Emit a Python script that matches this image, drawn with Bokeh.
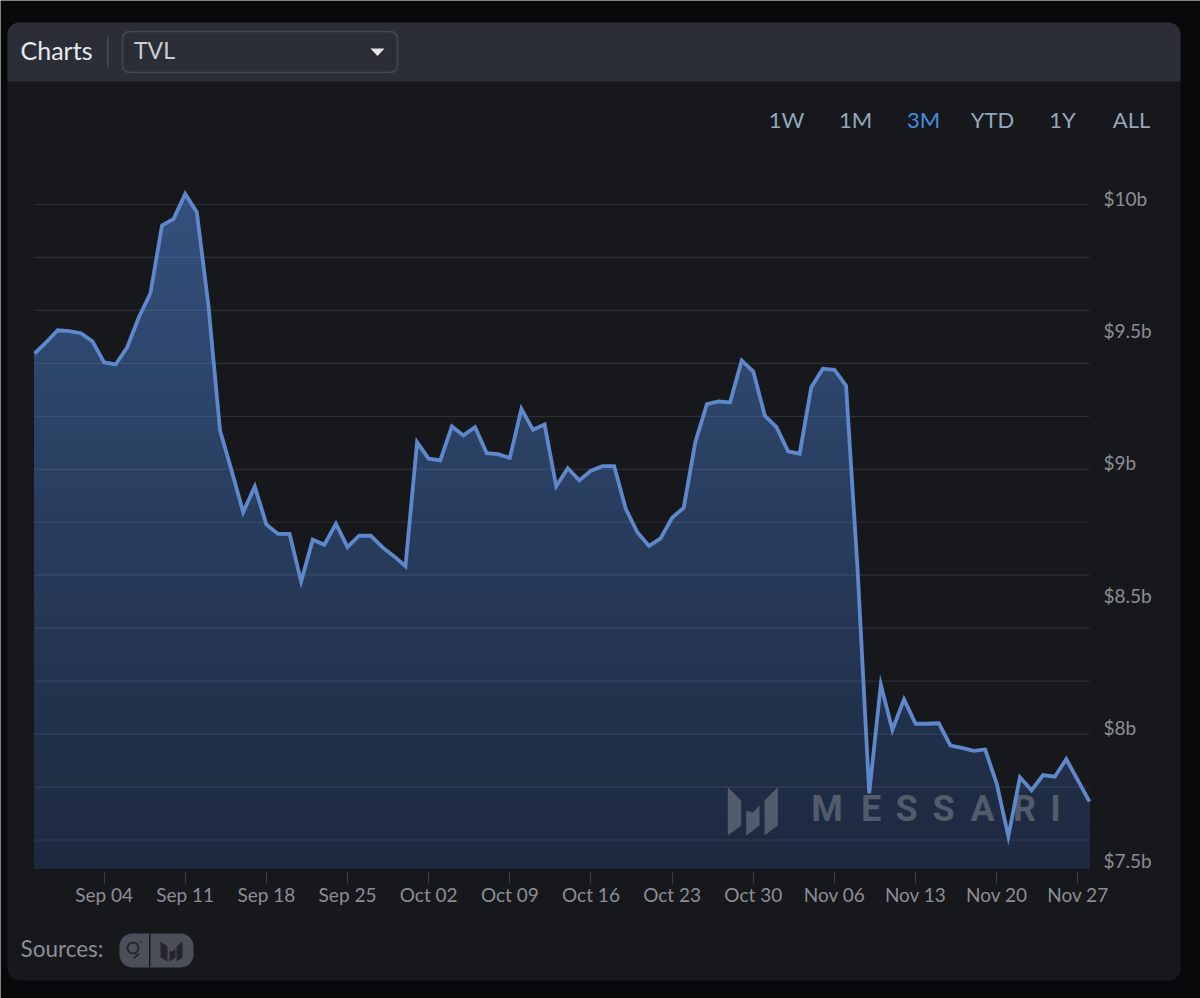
import numpy as np
import pandas as pd
from bokeh.plotting import figure
from bokeh.models import (BoxAnnotation, Label, PolyAnnotation, Range1d, FixedTicker,
                          DatetimeTickFormatter, DatetimeAxis, LinearAxis)
from bokeh.embed import file_html
from bokeh.resources import INLINE

# ---------- data ----------
start_date = "2023-08-29"
tvl_billion = [
    9.437, 9.479, 9.525, 9.522, 9.514, 9.483, 9.404, 9.396, 9.461, 9.574,
    9.665, 9.921, 9.946, 10.040, 9.971, 9.619, 9.147, 8.995, 8.838, 8.935,
    8.792, 8.756, 8.756, 8.576, 8.734, 8.715, 8.794, 8.706, 8.749, 8.749,
    8.706, 8.672, 8.634, 9.102, 9.040, 9.034, 9.162, 9.128, 9.159, 9.061,
    9.057, 9.043, 9.228, 9.149, 9.169, 8.936, 9.004, 8.958, 8.995, 9.012,
    9.012, 8.851, 8.762, 8.710, 8.739, 8.817, 8.855, 9.102, 9.246, 9.256,
    9.253, 9.411, 9.369, 9.202, 9.159, 9.068, 9.059, 9.310, 9.380, 9.376,
    9.316, 8.618, 7.776, 8.187, 8.016, 8.131, 8.039, 8.039, 8.041, 7.957,
    7.948, 7.937, 7.942, 7.812, 7.614, 7.837, 7.788, 7.845, 7.839, 7.905,
    7.825, 7.745,
]
x_tick_dates = ["2023-09-04", "2023-09-11", "2023-09-18", "2023-09-25", "2023-10-02",
                "2023-10-09", "2023-10-16", "2023-10-23", "2023-10-30", "2023-11-06",
                "2023-11-13", "2023-11-20", "2023-11-27"]
y_tick_values = [7.5, 8.0, 8.5, 9.0, 9.5, 10.0]
y_tick_labels = ["$7.5b", "$8b", "$8.5b", "$9b", "$9.5b", "$10b"]
grid_values = [7.6, 7.8, 8.0, 8.2, 8.4, 8.6, 8.8, 9.0, 9.2, 9.4, 9.6, 9.8, 10.0]
range_buttons = ["1W", "1M", "3M", "YTD", "1Y", "ALL"]

# ---------- style ----------
FONT = "Lato"
OUTER = "#08090b"
CARD = "#17181c"
HEAD = "#2b2e36"
LINE = "#5f88cc"
MUTED = "#8b8e95"
ICON = "#24262c"
W, H = 1200, 998
PLOT_L, PLOT_R, PLOT_B = 34, 1089, 868
PX_PER_B = 264.8
GRID_10B_Y = 204
Y_LABEL_RAISE_PX = 6.5

dates = pd.date_range(start_date, periods=len(tvl_billion), freq="D")
v = np.array(tvl_billion)
ms = dates.values.astype("datetime64[ms]").astype("int64").astype(float)
px_per_ms = (PLOT_R - PLOT_L) / (ms[-1] - ms[0])
x_start = ms[0] - PLOT_L / px_per_ms
x_end = ms[0] + (W - PLOT_L) / px_per_ms
y_top = 10 + GRID_10B_Y / PX_PER_B
y_end = 10 - (H - GRID_10B_Y) / PX_PER_B
y_base = 10 - (PLOT_B - GRID_10B_Y) / PX_PER_B

p = figure(width=W, height=H, output_backend="svg", toolbar_location=None,
           x_range=Range1d(x_start, x_end), y_range=Range1d(y_end, y_top),
           x_axis_location=None, y_axis_location=None,
           min_border=0, border_fill_color=OUTER, background_fill_color=OUTER,
           outline_line_color=None)
p.grid.visible = False
label_shift = Y_LABEL_RAISE_PX / PX_PER_B
p.extra_y_ranges = {"labels": Range1d(y_end - label_shift, y_top - label_shift)}


def box(l, t, r, b, fill, line=None, radius=0, level="underlay", lw=1.5):
    p.add_layout(BoxAnnotation(left=l, right=r, top=t, bottom=b,
                               left_units="canvas", right_units="canvas",
                               top_units="canvas", bottom_units="canvas",
                               fill_color=fill, fill_alpha=1, line_color=line, line_width=lw,
                               line_alpha=1 if line else 0, border_radius=radius, level=level,
                               editable=False))


def text(px, py, s, size, color, align="left", weight="normal", alpha=1.0, font=FONT):
    p.add_layout(Label(x=px, y=py, x_units="canvas", y_units="canvas", text=s,
                       text_font=font, text_font_size=f"{size}px", text_color=color,
                       text_align=align, text_baseline="middle", text_font_style=weight,
                       text_alpha=alpha))


def poly(pts, color, alpha=1.0):
    p.add_layout(PolyAnnotation(xs=[a for a, _ in pts], ys=[b for _, b in pts],
                                xs_units="canvas", ys_units="canvas", fill_color=color,
                                fill_alpha=alpha, line_color=None))


# card + header chrome
box(7, 22, 1180, 980, CARD, radius=12, level="image")
box(7, 22, 1180, 81, HEAD, radius={"top_left": 12, "top_right": 12, "bottom_left": 0, "bottom_right": 0})
box(106.5, 36, 108, 67, "#4a4e58")
box(122, 31, 397, 72, HEAD, line="#454953", radius=7)
text(20, 49.5, "Charts", 25, "#e8eaec")
text(133.5, 49.5, "TVL", 23, "#c9cdd3")
poly([(370, 48), (384, 48), (377, 55.5)], "#e4e6ea")

# range buttons
for name, px in zip(range_buttons, [786, 855, 923, 992, 1062, 1131]):
    text(px, 118.5, name, 22, "#3f8fe0" if name == "3M" else "#92a8ba", align="center")

# vertical gradient below the curve, painted top-down so bands do not show seams
n_bands = 80
c_top = np.array([0x33, 0x50, 0x7c])
c_bot = np.array([0x1d, 0x29, 0x3e])
edges = np.linspace(10.06, y_base, n_bands + 1)
for k in range(n_bands):
    t = k / (n_bands - 1)
    c = (c_top + (c_bot - c_top) * t).round().astype(int)
    p.quad(left=ms[0], right=ms[-1], top=edges[k], bottom=y_base,
           fill_color="#%02x%02x%02x" % tuple(c), line_color=None)
edge_pad = 1.5 / px_per_ms
mask_x = np.concatenate([[ms[0] - edge_pad], ms, [ms[-1] + edge_pad]])
mask_y = np.concatenate([[v[0]], v, [v[-1]]])
p.varea(x=mask_x, y1=mask_y, y2=np.full(len(mask_y), 10.08), fill_color=CARD)

# grid lines across the plotted span
p.segment(x0=[ms[0]] * len(grid_values), x1=[ms[-1]] * len(grid_values),
          y0=grid_values, y1=grid_values, line_color="#7a8aa8", line_alpha=0.2, line_width=1.2)

# curve above watermark
p.line(ms, v, line_color=LINE, line_width=3.8, line_join="miter", level="overlay")

# axes
xa = DatetimeAxis(fixed_location=y_base)
p.add_layout(xa, "below")
xa.ticker = FixedTicker(ticks=[pd.Timestamp(d).value / 1e6 for d in x_tick_dates])
xa.formatter = DatetimeTickFormatter(days="%b %d", months="%b %d", hours="%b %d")
xa.axis_line_color = None
xa.minor_tick_line_color = None
xa.major_tick_in = -3
xa.major_tick_out = 15
xa.major_tick_line_color = "#3a3d46"
xa.major_tick_line_width = 1.2
xa.major_label_standoff = -1
xa.major_label_text_font = FONT
xa.major_label_text_font_size = "19px"
xa.major_label_text_color = MUTED

ya = LinearAxis(fixed_location=ms[-1], y_range_name="labels")
p.add_layout(ya, "right")
ya.ticker = FixedTicker(ticks=y_tick_values)
ya.major_label_overrides = dict(zip(y_tick_values, y_tick_labels))
ya.axis_line_color = None
ya.minor_tick_line_color = None
ya.major_tick_line_color = None
ya.major_tick_in = 0
ya.major_tick_out = 0
ya.major_label_standoff = 14
ya.major_label_text_font = FONT
ya.major_label_text_font_size = "19px"
ya.major_label_text_color = MUTED

# watermark
WM = "#868b93"
poly([(727.3, 786.7), (740.7, 800), (740.7, 825), (727.3, 835)], WM, 0.5)
poly([(745.7, 810), (752.3, 812), (759, 805), (759, 825), (745.7, 835)], WM, 0.5)
poly([(764, 800), (777.3, 786.7), (777.3, 825), (764, 835)], WM, 0.5)
for ch, px in zip("MESSARI", [826.5, 870.5, 906, 943, 982, 1024, 1055]):
    text(px, 808, ch, 36, WM, align="center", weight="bold", alpha=0.5, font="Roboto")

# sources
text(20, 947.5, "Sources:", 22.5, MUTED)
box(119, 933, 193, 967, "#4b4f5a", radius=13)
box(148.5, 933, 150, 967, "#17181c")
box(127, 942, 138, 953, "#4b4f5a", line=ICON, radius=6, lw=2)
poly([(132.5, 957), (138, 952.5), (139.2, 954), (133.7, 958.5)], ICON)
poly([(139.5, 940.5), (141, 940.5), (141, 942), (139.5, 942)], ICON)
poly([(160, 941), (167, 946), (167, 961), (160, 957)], ICON)
poly([(169, 950), (172, 951), (175, 948), (175, 957), (169, 961)], ICON)
poly([(176, 946), (182, 941), (182, 957), (176, 961)], ICON)

open("out.html", "w").write(file_html(p, INLINE))
